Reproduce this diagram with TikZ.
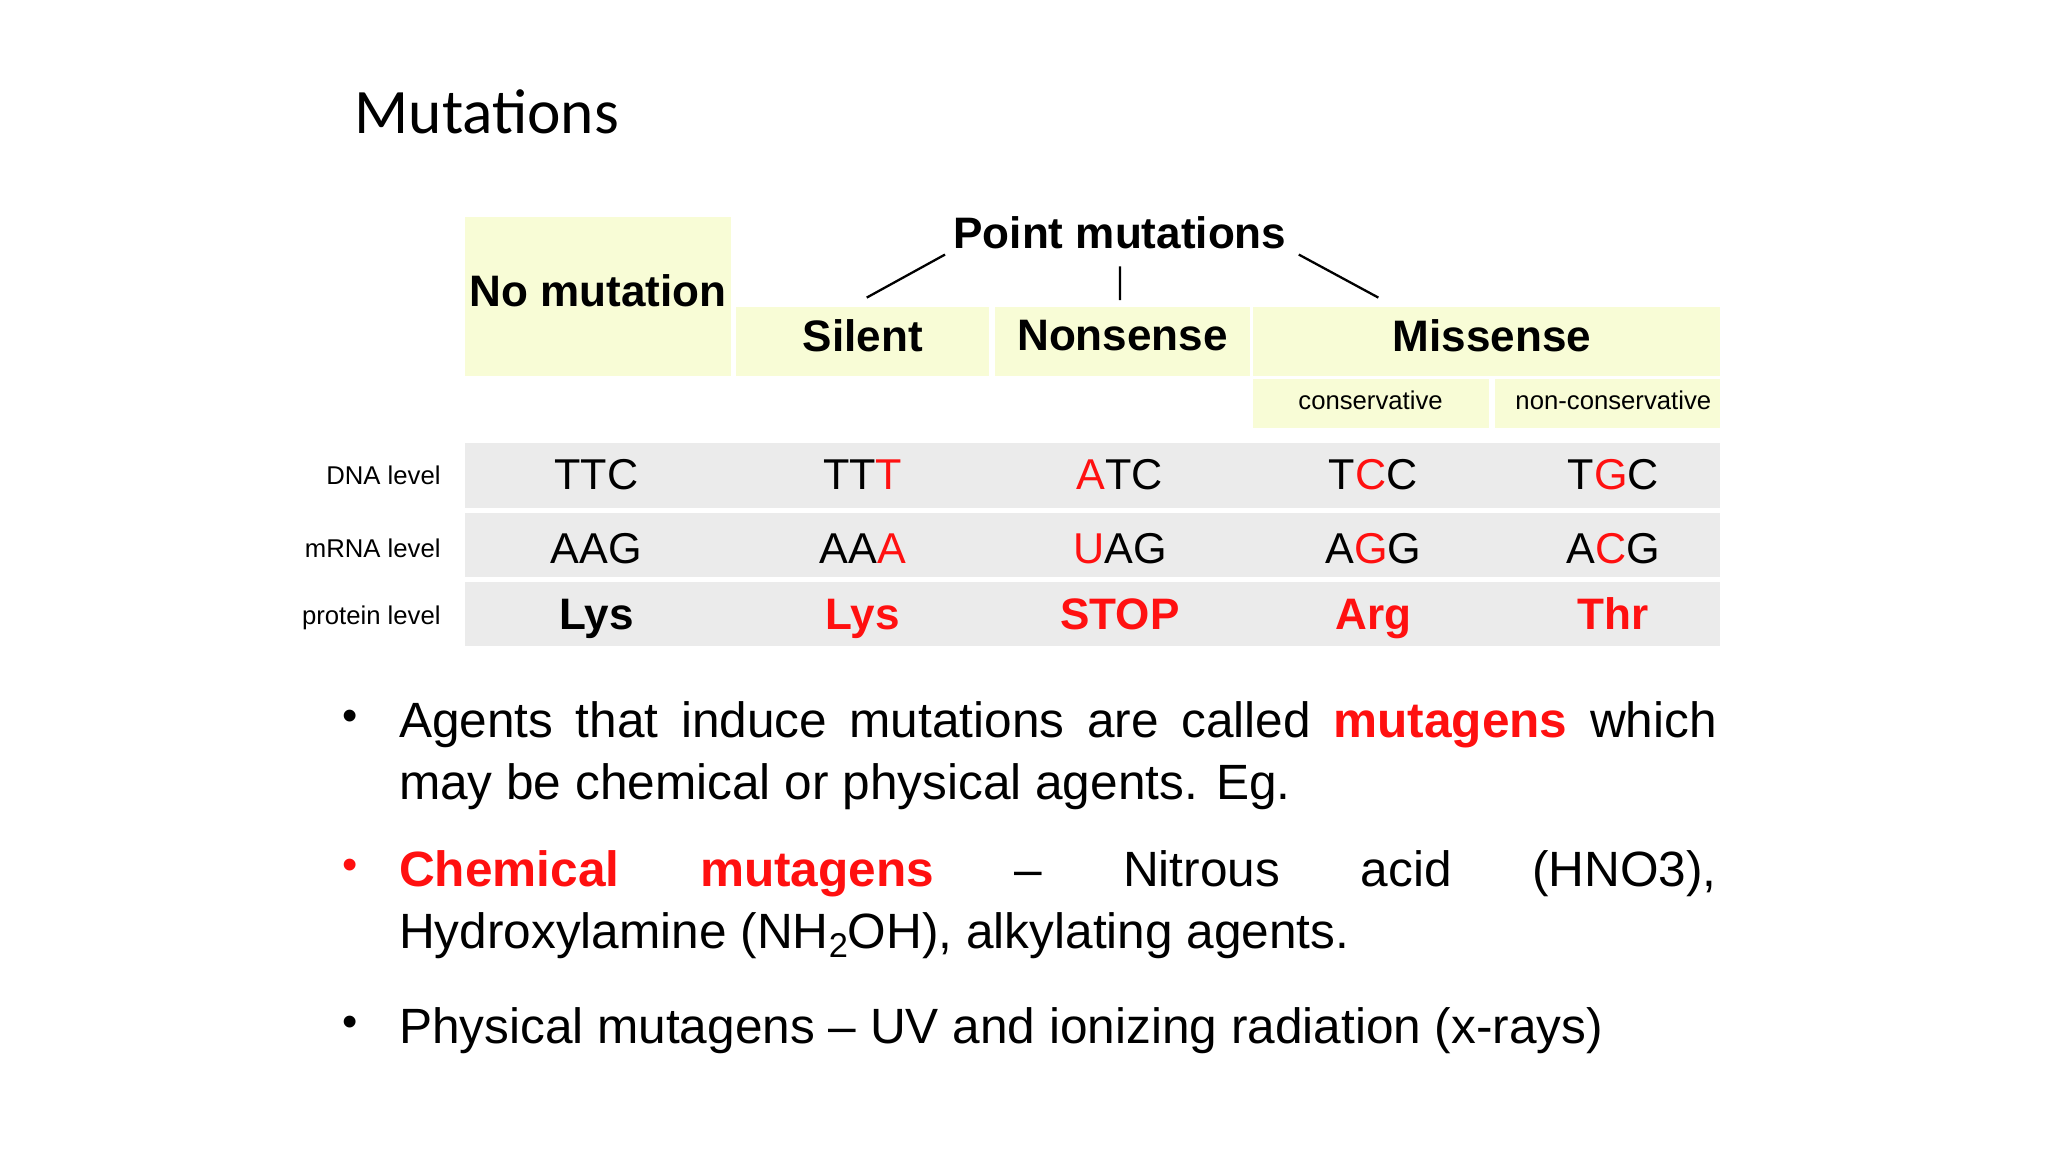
\documentclass[tikz,border=0pt]{standalone}
\usepackage{fontspec}
\setmainfont{Liberation Sans}
\newfontfamily\titlefont{Carlito}
\definecolor{ylw}{HTML}{F8FCD6}
\definecolor{gry}{HTML}{EBEBEB}
\definecolor{rd}{HTML}{FF1010}
\begin{document}
\begin{tikzpicture}[x=0.01cm,y=-0.01cm,
  ybox/.style={fill=ylw,draw=none},
  gbox/.style={fill=gry,draw=none},
  hdr/.style={font=\fontsize{9.6}{11}\selectfont\bfseries},
  prt/.style={font=\fontsize{9.6}{11}\selectfont\bfseries,anchor=base},
  cod/.style={font=\fontsize{9.4}{11}\selectfont},
  sub/.style={font=\fontsize{5.6}{7}\selectfont},
  lbl/.style={font=\fontsize{5.6}{7}\selectfont,anchor=east},
  bul/.style={anchor=north west,inner sep=0,text width=10.09cm,align=justify,font=\fontsize{10.8}{13.4}\selectfont},
  dot/.style={inner sep=0,font=\fontsize{9.5}{10}\selectfont}]
\useasboundingbox (-4,-4) rectangle (1565,880);
\node[anchor=west,inner sep=0,font=\titlefont\fontsize{13.8}{16}\selectfont] (title) at (267,82) {Mutations};
% yellow headers
\fill[ybox] (352,162) rectangle (556,284);
\node[hdr] (nomut) at (454,219) {No mutation};
\node[hdr] (point) at (854,174) {Point mutations};
\fill[ybox] (560,231) rectangle (754,284);
\node[hdr] (silent) at (657,253) {Silent};
\fill[ybox] (758,231) rectangle (954,284);
\node[hdr] (nons) at (856,253) {Nonsense};
\fill[ybox] (956,231) rectangle (1314,284);
\node[hdr] (mis) at (1139,253) {Missense};
\fill[ybox] (956,286) rectangle (1137,324);
\node[sub] (cons) at (1046,303) {conservative};
\fill[ybox] (1141,286) rectangle (1314,324);
\node[sub] (ncons) at (1232,303) {non-conservative};
\coordinate (l1a) at (720,191); \coordinate (l1b) at (660,224);
\coordinate (l2a) at (854,200); \coordinate (l2b) at (854,226);
\coordinate (l3a) at (991,191); \coordinate (l3b) at (1052,224);
\draw[line width=0.5pt] (l1a) -- (l1b) (l2a) -- (l2b) (l3a) -- (l3b);
% gray rows
\fill[gbox] (352,335) rectangle (1314,385);
\fill[gbox] (352,389) rectangle (1314,438);
\fill[gbox] (352,442) rectangle (1314,491);
\node[lbl] (dna) at (346,360) {DNA level};
\node[lbl] (mrna) at (346,416) {mRNA level};
\node[lbl] (prot) at (346,469) {protein level};
\node[cod] (d1) at (453,360) {TTC};
\node[cod] (d2) at (657,360) {TT\textcolor{rd}{T}};
\node[cod] (d3) at (854,360) {\textcolor{rd}{A}TC};
\node[cod] (d4) at (1048,360) {T\textcolor{rd}{C}C};
\node[cod] (d5) at (1232,360) {T\textcolor{rd}{G}C};
\node[cod] (m1) at (453,416) {AAG};
\node[cod] (m2) at (657,416) {AA\textcolor{rd}{A}};
\node[cod] (m3) at (854,416) {\textcolor{rd}{U}AG};
\node[cod] (m4) at (1048,416) {A\textcolor{rd}{G}G};
\node[cod] (m5) at (1232,416) {A\textcolor{rd}{C}G};
\node[prt] (p1) at (453,478) {Lys};
\node[prt,text=rd] (p2) at (657,478) {Lys};
\node[prt,text=rd] (p3) at (854,478) {STOP};
\node[prt,text=rd] (p4) at (1048,478) {Arg};
\node[prt,text=rd] (p5) at (1232,478) {Thr};
% bullets
\node[dot] (b1) at (264,548) {•};
\node[bul] (t1) at (301,533) {Agents that induce mutations are called \textcolor{rd}{\bfseries mutagens} which may be chemical or physical agents. Eg.};
\node[dot,text=rd] (b2) at (264,662) {•};
\node[bul] (t2) at (301,647) {\textcolor{rd}{\bfseries Chemical mutagens} -- Nitrous acid (HNO3),\linebreak Hydroxylamine (NH\raisebox{-0.35ex}{\fontsize{7.5}{8}\selectfont 2}OH), alkylating agents.};
\node[dot] (b3) at (264,782) {•};
\node[bul] (t3) at (301,767) {Physical mutagens -- UV and ionizing radiation (x-rays)};
\end{tikzpicture}
\end{document}
